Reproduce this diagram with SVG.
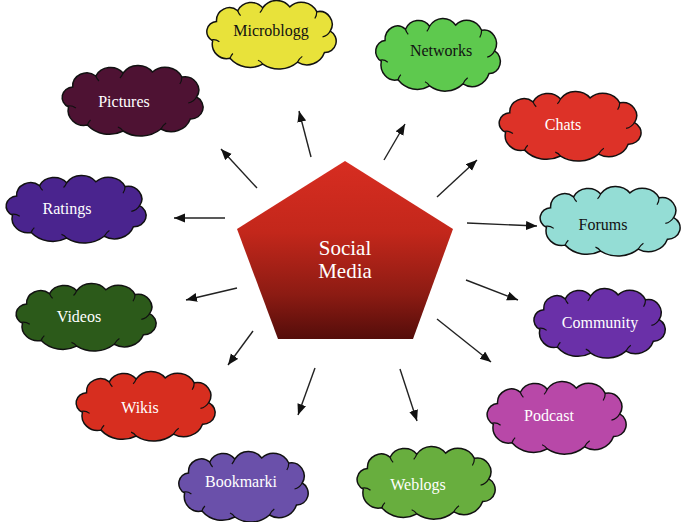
<svg xmlns="http://www.w3.org/2000/svg" width="685" height="522" viewBox="0 0 685 522">
<defs>
  <linearGradient id="pg" x1="0" y1="0" x2="0" y2="1">
    <stop offset="0" stop-color="#d72d21"/>
    <stop offset="0.4" stop-color="#c3271b"/>
    <stop offset="0.75" stop-color="#8c1b13"/>
    <stop offset="1" stop-color="#540d0a"/>
  </linearGradient>
  <marker id="ah" markerUnits="userSpaceOnUse" markerWidth="12" markerHeight="10" refX="11" refY="4.5" orient="auto">
    <path d="M0,0 L11,4.5 L0,9 z" fill="#111"/>
  </marker>
  <g id="cloud">
    <path class="co" d="M10,40 A10.5,10.5 0 0 1 14,20 A13.4,13.4 0 0 1 36,9 A15.8,15.8 0 0 1 62,6 A17.5,17.5 0 0 1 90,5 A17.9,17.9 0 0 1 118,10 A13.3,13.3 0 0 1 132,30 A11.7,11.7 0 0 1 126,52 A19.3,19.3 0 0 1 98,62 A30,30 0 0 1 62,64 A27.8,27.8 0 0 1 28,58 A15.1,15.1 0 0 1 10,40 Z"/>
    <path class="ci" d="M9,39 Q13,38 17,41 M36,9 Q37,12 39,14 M62,6 Q61,9 59,11 M118,10 Q118,14 116,17 M132,30 Q129,35 124,36 M98,62 Q100,58 103,56 M62,64 Q60,61 57,60 M28,58 Q29,55 31,53"/>
  </g>
  <style>
    .co { stroke:#111; stroke-width:1.5; vector-effect:non-scaling-stroke; }
    .ci { fill:none; stroke:#111; stroke-width:1.2; vector-effect:non-scaling-stroke; }
    .lbl { font-family:"Liberation Serif","Times New Roman",serif; font-size:16px; text-anchor:middle; }
    .w { fill:#ffffff; }
    .k { fill:#111111; }
    .conn line { stroke:#222; stroke-width:1.4; marker-end:url(#ah); }
  </style>
</defs>
<rect width="685" height="522" fill="#ffffff"/>

<g id="connectors" class="conn">
  <line x1="311" y1="157" x2="299" y2="111"/>
  <line x1="384" y1="160" x2="405" y2="124"/>
  <line x1="437" y1="197" x2="477" y2="160"/>
  <line x1="467" y1="223" x2="537" y2="226"/>
  <line x1="466" y1="280" x2="518" y2="300"/>
  <line x1="437" y1="319" x2="491" y2="362"/>
  <line x1="400" y1="369" x2="417" y2="421"/>
  <line x1="315" y1="368" x2="298" y2="415"/>
  <line x1="253" y1="331" x2="228" y2="365"/>
  <line x1="237" y1="288" x2="186" y2="300"/>
  <line x1="225" y1="218" x2="174" y2="218"/>
  <line x1="257" y1="188" x2="221" y2="149"/>
</g>

<g id="social-media">
  <polygon points="345,161 453,229 413,339 278,339 237,229" fill="url(#pg)"/>
  <text x="345" y="255" font-family="Liberation Serif, Times New Roman, serif" font-size="21" fill="#ffffff" text-anchor="middle">Social</text>
  <text x="345" y="278" font-family="Liberation Serif, Times New Roman, serif" font-size="21" fill="#ffffff" text-anchor="middle">Media</text>
</g>

<g id="microblogg">
  <use href="#cloud" fill="#e8e23a" transform="translate(203,2) scale(0.964,0.971)"/>
  <text class="lbl k" x="271" y="36">Microblogg</text>
</g>
<g id="networks">
  <use href="#cloud" fill="#5ec94e" transform="translate(372,20) scale(0.929,1.03)"/>
  <text class="lbl k" x="441" y="56">Networks</text>
</g>
<g id="pictures">
  <use href="#cloud" fill="#4e1233" transform="translate(58,67) scale(1.05,1.0)"/>
  <text class="lbl w" x="124" y="107">Pictures</text>
</g>
<g id="chats">
  <use href="#cloud" fill="#dd3228" transform="translate(495,93) scale(1.057,0.985)"/>
  <text class="lbl w" x="563" y="130">Chats</text>
</g>
<g id="forums">
  <use href="#cloud" fill="#94ddd5" transform="translate(536,188) scale(1.043,0.985)"/>
  <text class="lbl k" x="603" y="230">Forums</text>
</g>
<g id="ratings">
  <use href="#cloud" fill="#4a248e" transform="translate(2,177) scale(1.043,0.956)"/>
  <text class="lbl w" x="67" y="214">Ratings</text>
</g>
<g id="videos">
  <use href="#cloud" fill="#2c5a1a" transform="translate(12,285) scale(1.043,0.956)"/>
  <text class="lbl w" x="79" y="322">Videos</text>
</g>
<g id="community">
  <use href="#cloud" fill="#6a30a8" transform="translate(530,290) scale(0.979,0.985)"/>
  <text class="lbl w" x="600" y="328">Community</text>
</g>
<g id="wikis">
  <use href="#cloud" fill="#d72e1f" transform="translate(72,373) scale(1.036,0.985)"/>
  <text class="lbl w" x="140" y="413">Wikis</text>
</g>
<g id="podcast">
  <use href="#cloud" fill="#b848a8" transform="translate(483,383) scale(1.036,1.03)"/>
  <text class="lbl w" x="549" y="421">Podcast</text>
</g>
<g id="bookmarki">
  <use href="#cloud" fill="#6a50aa" transform="translate(175,453) scale(0.964,1.0)"/>
  <text class="lbl w" x="241" y="487">Bookmarki</text>
</g>
<g id="weblogs">
  <use href="#cloud" fill="#68ae3e" transform="translate(353,448) scale(1.029,1.03)"/>
  <text class="lbl w" x="418" y="490">Weblogs</text>
</g>
</svg>
